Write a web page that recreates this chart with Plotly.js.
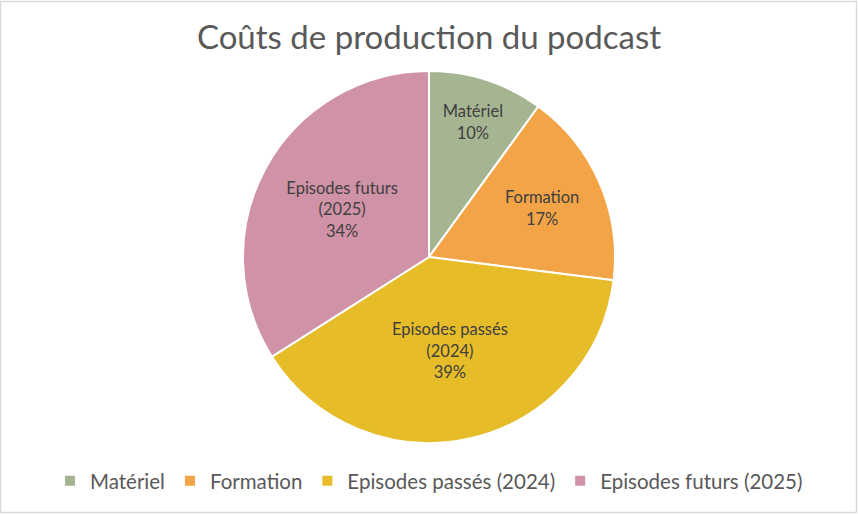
<!DOCTYPE html>
<html>
<head>
<meta charset="utf-8">
<script src="https://cdn.plot.ly/plotly-3.0.1.min.js"></script>
<style>html,body{margin:0;padding:0;background:#fff;}#chart{width:858px;height:514px;}</style>
</head>
<body>
<div id="chart"></div>
<script>
const categories = ["Matériel", "Formation", "Episodes passés (2024)", "Episodes futurs (2025)"];
const wrappedLabels = ["Matériel", "Formation", "Episodes passés<br>(2024)", "Episodes futurs<br>(2025)"];
const values = [10, 17, 39, 34];
const colors = ["#a5b592", "#f3a447", "#e7bc29", "#d092a7"];

const FONT = "Lato, 'Open Sans', sans-serif";

const trace = {
  type: "pie",
  labels: categories,
  values: values,
  customdata: wrappedLabels,
  sort: false,
  direction: "clockwise",
  rotation: 0,
  marker: { colors: colors, line: { color: "#ffffff", width: 2 } },
  texttemplate: "%{customdata}<br>%{percent:.0%}",
  textposition: "inside",
  insidetextorientation: "horizontal",
  textfont: { family: FONT, size: 16.5, color: "#404040" },
  hoverinfo: "label+percent",
  domain: { x: [243/858, 615/858], y: [1 - 443/514, 1 - 71/514] }
};

const layout = {
  width: 858,
  height: 514,
  margin: { l: 0, r: 0, t: 0, b: 0 },
  paper_bgcolor: "#ffffff",
  title: {
    text: "Coûts de production du podcast",
    font: { family: FONT, size: 33, color: "#595959" },
    x: 0.5, xanchor: "center",
    y: 1 - 37/514, yanchor: "middle"
  },
  showlegend: true,
  legend: {
    orientation: "h",
    x: 0.5, xanchor: "center",
    y: 1 - 481/514, yanchor: "middle",
    font: { family: FONT, size: 20.5, color: "#595959" },
    traceorder: "normal",
    itemwidth: 30
  },
  shapes: [{
    type: "rect", xref: "paper", yref: "paper",
    x0: 0.5/858, x1: 1 - 1.5/858, y0: 1.5/514, y1: 1 - 1.5/514,
    line: { color: "#d9d9d9", width: 1.5 }, fillcolor: "rgba(0,0,0,0)"
  }]
};

Plotly.newPlot("chart", [trace], layout, { displayModeBar: false });
</script>
</body>
</html>
